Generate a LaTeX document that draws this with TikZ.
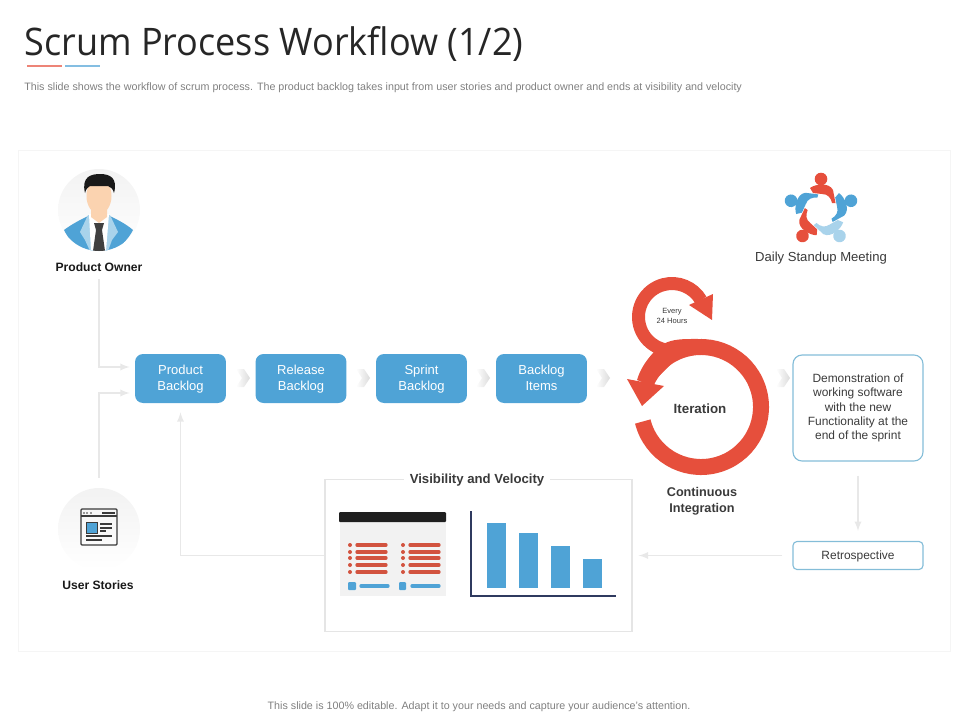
\documentclass[tikz,border=0pt]{standalone}
\usepackage{fontspec}
\setmainfont{Liberation Sans}
\newfontfamily\titlefont[FakeStretch=0.95]{Open Sans}
\usetikzlibrary{arrows}
\usetikzlibrary{shapes}
\usetikzlibrary{positioning}
\definecolor{scrumblue}{HTML}{4FA3D6}
\definecolor{scrumred}{HTML}{E64F3C}
\definecolor{listred}{HTML}{D2533F}
\definecolor{softblue}{HTML}{A9D3EB}
\definecolor{flowgrey}{HTML}{E8E8E8}
\definecolor{outline}{HTML}{84BDD8}
\definecolor{inkgrey}{HTML}{3A3A3A}
\definecolor{axisblue}{HTML}{2F3A5F}
\definecolor{skintone}{HTML}{FBD3B0}

\begin{document}
\begin{tikzpicture}[x=0.02cm,y=-0.02cm]
    \tikzstyle{every node}=[inner sep=0pt,align=center];
    \tikzstyle{backlogbox}=[fill=scrumblue,rounded corners=0.16cm,minimum width=1.82cm,minimum height=0.98cm,text=white,font=\fontsize{7.4}{9.1}\selectfont,text depth=0.3pt];
    \tikzstyle{outlinebox}=[draw=outline,line width=0.65pt,rounded corners=0.18cm,minimum width=2.6cm,text=inkgrey,font=\fontsize{6.8}{8.1}\selectfont];
    \tikzstyle{avatar}=[circle,minimum size=1.64cm,top color=black!5,bottom color=white];
    \tikzstyle{caption}=[font=\bfseries\fontsize{6.9}{9}\selectfont,text=black!90];
    \tikzstyle{flow}=[-latex,draw=flowgrey,line width=0.85pt];
    \tikzstyle{bigarc}=[draw=scrumred,line width=0.32cm];
    \tikzstyle{smallarc}=[draw=scrumred,line width=0.26cm];

    \useasboundingbox (0,0) rectangle (960,720);

    \node[anchor=west,text=black!85] (title) at (24,44) {\titlefont\fontsize{21.6}{26}\selectfont Scrum Process Workflow (1/2)};
    \draw[scrumred!70,line width=0.7pt] (27,66) -- (62,66);
    \draw[scrumblue!70,line width=0.7pt] (65,66) -- (100,66);
    \node[anchor=west,text=black!50] (subtitle) at (24,88) {\fontsize{6.1}{7}\selectfont This slide shows the workflow of scrum process. The product backlog takes input  from user stories and product owner and ends at visibility and velocity};
    \node[text=black!50] (footer) at (479,707) {\fontsize{6.1}{7}\selectfont This slide is 100\% editable.  Adapt it to your needs and capture your audience's attention.};

    \node[draw=black!4,minimum width=18.64cm,minimum height=10.02cm] (frame) at (484,400.5) {};

    \node[backlogbox] (product) at (180.5,378.5) {Product\\Backlog};
    \node[backlogbox] (release) at (301,378.5) {Release\\Backlog};
    \node[backlogbox] (sprint) at (421.5,378.5) {Sprint\\Backlog};
    \node[backlogbox] (items) at (541.5,378.5) {Backlog\\Items};

    \foreach \cx in {243,363,483,603,783}
        \shade[left color=white,right color=black!14] ({\cx-7},369) -- ({\cx+1},369) -- ({\cx+7},378) -- ({\cx+1},387) -- ({\cx-7},387) -- ({\cx-1},378) -- cycle;

    \node[avatar] (owner) at (99,210) {};
    \node[caption] (ownerlabel) at (99,267) {Product Owner};
    \node[avatar] (stories) at (99,529) {};
    \node[caption] (storieslabel) at (98,585) {User Stories};

    \begin{scope}
        \clip (99,210) circle (41);
        \fill[scrumblue] (64,230) .. controls (72,224) and (80,220) .. (88,216) -- (110,216) .. controls (118,220) and (126,224) .. (133,230) .. controls (128,240) and (120,247) .. (112,251) -- (84,251) .. controls (76,247) and (69,240) .. (64,230) -- cycle;
        \fill[softblue] (88,215) -- (110,215) -- (118,232) -- (112,240) -- (108,251) -- (90,251) -- (85,240) -- (80,232) -- cycle;
        \fill[white] (89,214) -- (109,214) -- (106,251) -- (91,251) -- cycle;
        \fill[black!75] (94,223) -- (104,223) -- (102,230) -- (105,251) -- (93,251) -- (96,230) -- cycle;
    \end{scope}
    \fill[skintone] (91,205) -- (107,205) -- (107,217) -- (99,223) -- (91,217) -- cycle;
    \fill[skintone] (99,196) ellipse (12.5 and 18);
    \fill[black!90] (85,193) .. controls (81,176) and (92,174) .. (100,174) .. controls (110,174) and (118,178) .. (114,193) .. controls (113,189) and (111,187) .. (108,186) -- (90,186) .. controls (88,187) and (86,189) .. (85,193) -- cycle;

    \draw[inkgrey,line width=0.7pt,rounded corners=0.02cm] (81,509) rectangle (117,545);
    \draw[inkgrey,line width=0.6pt] (81,516) -- (117,516);
    \foreach \dx in {84,87,91} \fill[inkgrey] (\dx,513) circle (0.8);
    \draw[inkgrey,line width=0.6pt] (102,513) -- (115,513);
    \fill[scrumblue,draw=inkgrey,line width=0.5pt] (86,522) rectangle (97,533);
    \draw[inkgrey,line width=0.6pt] (100,524) -- (112,524) (100,528) -- (112,528) (100,531) -- (106,531);
    \draw[inkgrey,line width=0.6pt] (86,536) -- (112,536) (86,540) -- (102,540);

    \node[font=\fontsize{7.45}{9}\selectfont,text=inkgrey] (meeting) at (821,258.5) {Daily Standup Meeting};
    \foreach \turn/\tone in {0/scrumred,-72/scrumblue,-144/softblue,-216/scrumred,-288/scrumblue} {
        \begin{scope}[rotate around={\turn:(821,210.5)}]
            \fill[\tone] (821,179) circle (6.3);
            \fill[\tone] (810,188) .. controls (815,184) and (829,182) .. (833,190) -- (835.5,203) -- (832,203) .. controls (831,198) and (828,194) .. (822,194) -- (813,193) -- cycle;
        \end{scope}
    }

    \draw[smallarc] (672,317) ++(75:33.5) arc[start angle=75,end angle=330,radius=33.5];
    \fill[scrumred] (713,294) -- (689,305) -- (712,320) -- cycle;
    \node[font=\fontsize{4.3}{5.5}\selectfont,text=inkgrey] (hours) at (672,316) {Every\\24 Hours};

    \draw[bigarc] (701,407) ++(166:60) arc[start angle=166,end angle=-157,radius=60];
    \fill[scrumred] (700,339) .. controls (680,339) and (665,338) .. (653,353) .. controls (645,362) and (640,370) .. (637,380) -- (650,385) -- (680,355) -- cycle;
    \fill[scrumred] (627,379) -- (664,386) -- (642,406) -- cycle;
    \node[font=\bfseries\fontsize{7.6}{9}\selectfont,text=inkgrey] (iteration) at (700,409) {Iteration};
    \node[font=\bfseries\fontsize{7.2}{9.1}\selectfont,text=inkgrey] (integration) at (702,501) {Continuous\\Integration};

    \node[outlinebox,minimum height=2.12cm] (demo) at (858,408) {Demonstration of\\working software\\with the new\\Functionality at the\\end of the sprint};
    \node[outlinebox,minimum height=0.56cm,rounded corners=0.08cm,text depth=0.5pt] (retro) at (858,555.5) {Retrospective};

    \node[draw=black!10,line width=0.8pt,minimum width=6.14cm,minimum height=3.04cm] (vis) at (478.5,555.5) {};
    \node[fill=white,inner xsep=3pt,font=\bfseries\fontsize{7.5}{9}\selectfont,text=inkgrey] (vislabel) at (477,480) {Visibility and Velocity};

    \fill[black!5] (340,515) rectangle (446,596);
    \fill[black!88,rounded corners=0.02cm] (339,512) rectangle (446,522);
    \foreach \rowy in {545,552,558,565,572} {
        \fill[listred] (350,\rowy) circle (2) (403,\rowy) circle (2);
        \draw[listred,line width=1.9pt,line cap=round] (357,\rowy) -- (386,\rowy);
        \draw[listred,line width=1.9pt,line cap=round] (410,\rowy) -- (439,\rowy);
    }
    \fill[scrumblue,rounded corners=0.02cm] (348,582) rectangle (356,590);
    \fill[scrumblue,rounded corners=0.02cm] (399,582) rectangle (406,590);
    \draw[scrumblue,line width=1.9pt,line cap=round] (361,586) -- (388,586);
    \draw[scrumblue,line width=1.9pt,line cap=round] (412,586) -- (439,586);

    \draw[axisblue,line width=0.85pt] (471,511) -- (471,596) -- (616,596);
    \foreach \barx/\bary in {487/523,519/533,551/546,583/559}
        \fill[scrumblue] (\barx,\bary) rectangle ({\barx+19},588);

    \draw[flow,shorten <=0.14cm,shorten >=0.1cm] (ownerlabel.south) |- ([yshift=0.23cm]product.west);
    \draw[flow,shorten <=0.2cm,shorten >=0.1cm] (stories.north) |- ([yshift=-0.29cm]product.west);
    \draw[flow,shorten >=0.18cm] (vis.west) -| (product.south);
    \draw[flow,shorten <=0.2cm,shorten >=0.12cm] (retro.west) -- (vis.east);
    \draw[flow,shorten <=0.28cm,shorten >=0.2cm] (demo.south) -- (retro.north);
\end{tikzpicture}
\end{document}
